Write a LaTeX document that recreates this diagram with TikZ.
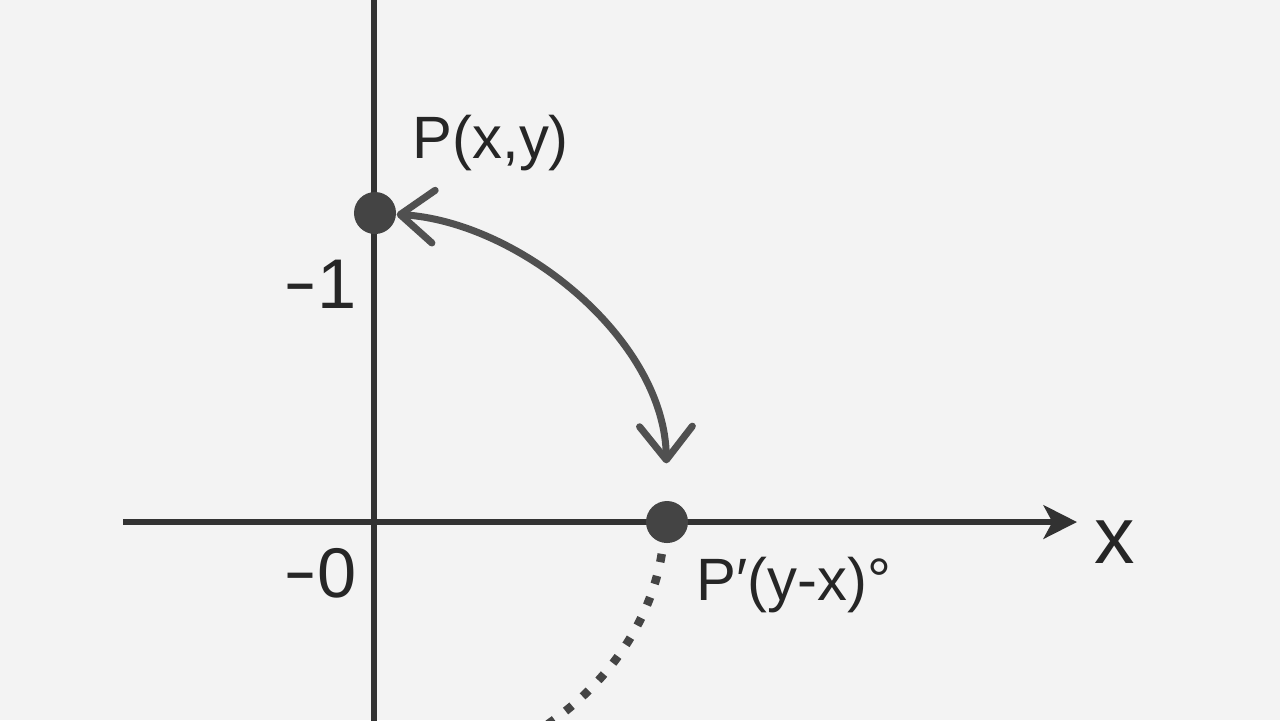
\documentclass[tikz,border=0pt]{standalone}
\usepackage{fontspec}
\setmainfont{Liberation Sans}
\usetikzlibrary{arrows.meta}
\definecolor{bg}{RGB}{243,243,243}
\definecolor{axisgray}{RGB}{50,50,50}
\definecolor{arcgray}{RGB}{80,80,80}
\definecolor{dotgray}{RGB}{68,68,68}
\definecolor{labgray}{RGB}{38,38,38}
\newcommand{\shortminus}{\raisebox{0.9pt}{\scalebox{1.45}[0.95]{-}}}

\begin{document}
\begin{tikzpicture}[x=0.01cm,y=-0.01cm,
    axis/.style={draw=axisgray, line width=1.8pt},
    dot/.style={circle, fill=dotgray, inner sep=0pt, minimum size=0.42cm},
    lab/.style={text=labgray, inner sep=0pt, font=\fontsize{17}{20}\selectfont},
    barb/.tip={Straight Barb[length=9.5pt,width=15pt,round]}]
  \fill[bg] (0,0) rectangle (1280,720);
  \useasboundingbox (0,0) rectangle (1280,720);
  % axes
  \coordinate (xl) at (123,522); \coordinate (xr) at (1077,522);
  \coordinate (yt) at (374,-5); \coordinate (yb) at (374,725);
  \draw[axis] (yt) -- (yb);
  \draw[axis,-{Stealth[length=9.5pt,width=9.5pt,inset=2.5pt]}] (xl) -- (xr);
  \node[lab, anchor=base west, font=\fontsize{23}{26}\selectfont] (xlab) at (1094,563) {x};
  \foreach \val/\yy in {1/308, 0/597} {\node[lab, anchor=base east, font=\fontsize{20}{24}\selectfont] (tick\val) at (357,\yy) {\shortminus\val};}
  % points
  \node[dot] (P) at (375,213) {};
  \node[dot] (Pp) at (667,522) {};
  \node[lab, anchor=base west] (Plab) at (412,158) {P(x,y)};
  \node[lab, anchor=base west] (Pplab) at (696,600) {P′(y-x)°};
  % rotation arc
  \draw[arcgray, line width=2pt, barb-barb, shorten >=10.5pt]
    (P) .. controls (520,222) and (665,340) .. (Pp);
  \coordinate (dend) at (548,724);
  \draw[dotgray, line width=2.4pt, dash pattern=on 2.4pt off 4pt, shorten <=3pt]
    (Pp) .. controls (650,625) and (605,685) .. (dend);
\end{tikzpicture}
\end{document}
